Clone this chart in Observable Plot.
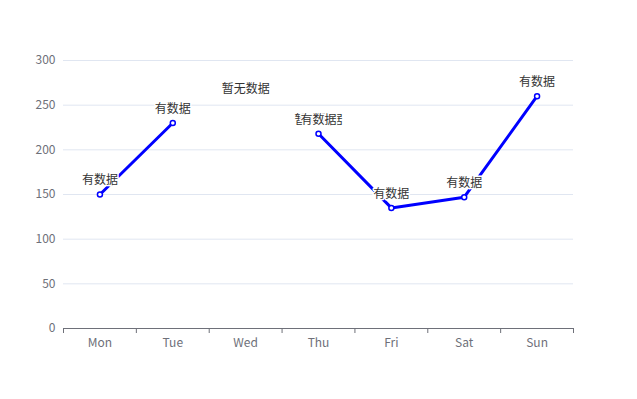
<!DOCTYPE html>
<html>
<head>
<meta charset="utf-8">
<script src="https://cdn.jsdelivr.net/npm/d3@7"></script>
<script src="https://cdn.jsdelivr.net/npm/@observablehq/plot@0.6"></script>
<style>
  html, body { margin: 0; padding: 0; background: #fff; }
  body { width: 637px; height: 399px; overflow: hidden; }
</style>
</head>
<body>
<div id="chart"></div>
<script>
const days = ["Mon", "Tue", "Wed", "Thu", "Fri", "Sat", "Sun"];
const values = [150, 230, null, 218, 135, 147, 260];
const labels = ["有数据", "有数据", "暂无数据", "有数据", "有数据", "有数据", "有数据"];
const labelValues = [150, 230, 252, 218, 135, 147, 260];
const extraLabelDays = ["Thu"];
const extraLabels = ["暂无数据"];
const extraLabelValues = [218];
const yTicks = [0, 50, 100, 150, 200, 250, 300];

const data = days.map((d, i) => ({ day: d, i: i + 0.5, value: values[i] }));
const labelData = days.map((d, i) => ({ i: i + 0.5, v: labelValues[i], text: labels[i] }));
const extraData = extraLabelDays.map((d, k) => ({ i: days.indexOf(d) + 0.5, v: extraLabelValues[k], text: extraLabels[k] }));

const font = "'Noto Sans CJK SC', 'Noto Sans', sans-serif";

const chart = Plot.plot({
  width: 637,
  height: 399,
  marginLeft: 63,
  marginRight: 64,
  marginTop: 60,
  marginBottom: 71,
  style: { fontFamily: font, fontSize: "12px", background: "#fff" },
  x: { type: "linear", domain: [0, days.length], axis: null, label: null },
  y: { domain: [0, 300], axis: null, label: null },
  marks: [
    Plot.gridY(yTicks.filter(t => t > 0), { stroke: "#E0E6F1", strokeOpacity: 1, strokeWidth: 1 }),
    Plot.axisY(yTicks, { tickSize: 0, tickPadding: 8, fill: "#6E7079", fontSize: 12, fontFamily: font, label: null }),
    Plot.ruleY([0], { stroke: "#6E7079", strokeWidth: 1 }),
    Plot.axisX(d3.range(0, days.length + 1), { tickSize: 5, stroke: "#6E7079", tickFormat: () => "", label: null }),
    Plot.axisX(days.map((d, i) => i + 0.5), { tickSize: 0, tickPadding: 10, tickFormat: (t) => days[Math.floor(t)], fill: "#6E7079", fontSize: 12, fontFamily: font, label: null }),
    Plot.line(data, { x: "i", y: "value", stroke: "#0000ff", strokeWidth: 3, curve: "linear" }),
    Plot.dot(data.filter(d => d.value != null), { x: "i", y: "value", r: 2.5, fill: "#fff", stroke: "#0000ff", strokeWidth: 1.5 }),
    Plot.text(extraData, { x: "i", y: "v", text: "text", dy: -14, fill: "#333", fontSize: 12, fontFamily: font }),
    Plot.text(labelData, { x: "i", y: "v", text: "text", dy: -14, fill: "#333", fontSize: 12, fontFamily: font, stroke: "#fff", strokeWidth: 3 })
  ]
});
document.getElementById("chart").appendChild(chart);
</script>
</body>
</html>
